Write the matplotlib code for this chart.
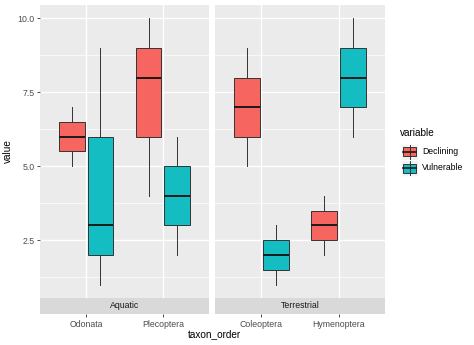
import matplotlib.pyplot as plt
from matplotlib.patches import Rectangle

plt.rcParams['font.family'] = ['Liberation Sans', 'DejaVu Sans']

# data (box stats)
facets = ['Aquatic', 'Terrestrial']
taxa = {'Aquatic': ['Odonata', 'Plecoptera'], 'Terrestrial': ['Coleoptera', 'Hymenoptera']}
variables = ['Declining', 'Vulnerable']
colors = ['#F6655F', '#14BDC1']

# [whislo, q1, med, q3, whishi] per taxon, per variable
declining = {'Odonata': [5, 5.5, 6, 6.5, 7], 'Plecoptera': [4, 6, 8, 9, 10],
             'Coleoptera': [5, 6, 7, 8, 9], 'Hymenoptera': [2, 2.5, 3, 3.5, 4]}
vulnerable = {'Odonata': [1, 2, 3, 6, 9], 'Plecoptera': [2, 3, 4, 5, 6],
              'Coleoptera': [1, 1.5, 2, 2.5, 3], 'Hymenoptera': [6, 7, 8, 9, 10]}
series = [declining, vulnerable]

yticks = [2.5, 5.0, 7.5, 10.0]
yminor = [1.25, 3.75, 6.25, 8.75]

W, H = 474, 345
fig = plt.figure(figsize=(W / 100, H / 100), dpi=100)

def px(l, t, r, b):
    return [l / W, (H - b) / H, (r - l) / W, (b - t) / H]

panels = [(40, 209), (215, 385)]
edge = '#333333'

for i, fac in enumerate(facets):
    l, r = panels[i]
    ax = fig.add_axes(px(l, 5, r, 298))
    ax.set_facecolor('#EBEBEB')
    for s in ax.spines.values():
        s.set_visible(False)
    ax.set_xlim(0.4, 2.6)
    ax.set_ylim(0.55, 10.45)
    for y in yminor:
        ax.axhline(y, color='white', lw=0.5, zorder=0)
    for y in yticks:
        ax.axhline(y, color='white', lw=1.0, zorder=0)
    for x in [1, 2]:
        ax.axvline(x, color='white', lw=1.0, zorder=0)
    ax.set_xticks([])
    if i == 0:
        ax.set_yticks(yticks)
        ax.set_yticklabels(['%.1f' % v for v in yticks], fontsize=6.3, color='#4D4D4D')
        ax.tick_params(axis='y', length=2.5, width=0.6, color='#333333', pad=1.5)
        ax.set_ylabel('value', fontsize=7.2, labelpad=3)
    else:
        ax.set_yticks([])

    for j, var in enumerate(variables):
        stats = []
        for t in taxa[fac]:
            w0, q1, med, q3, w1 = series[j][t]
            stats.append({'whislo': w0, 'q1': q1, 'med': med, 'q3': q3, 'whishi': w1})
        pos = [1 + (j - 0.5) * 0.375, 2 + (j - 0.5) * 0.375]
        ax.bxp(stats, positions=pos, widths=0.3375, showfliers=False,
               patch_artist=True, manage_ticks=False,
               boxprops=dict(facecolor=colors[j], edgecolor=edge, lw=0.7),
               medianprops=dict(color='#1a1a1a', lw=1.4),
               whiskerprops=dict(color=edge, lw=0.7),
               capprops=dict(lw=0))

    sx = fig.add_axes(px(l, 298, r, 314))
    sx.set_facecolor('#D9D9D9')
    for s in sx.spines.values():
        s.set_visible(False)
    sx.set_xlim(0.4, 2.6)
    sx.set_ylim(0, 1)
    sx.set_yticks([])
    sx.text(1.5, 0.5, fac, ha='center', va='center', fontsize=6.3, color='#1A1A1A')
    sx.set_xticks([1, 2])
    sx.set_xticklabels(taxa[fac], fontsize=6.3, color='#4D4D4D')
    sx.tick_params(axis='x', length=2.5, width=0.6, color='#333333', pad=1.5)

fig.text(214 / W, 1 - 334 / H, 'taxon_order', ha='center', va='center', fontsize=7.2)

# legend drawn by hand in pixel coordinates, with boxplot-like keys
lg = fig.add_axes(px(395, 120, 474, 180))
lg.set_xlim(395, 474)
lg.set_ylim(180, 120)
lg.axis('off')
lg.text(400, 133, 'variable', fontsize=7.2, va='center', ha='left')
for k, (c, lab) in enumerate(zip(colors, variables)):
    yc = 151.5 + k * 16.5
    lg.add_patch(Rectangle((401, yc - 8), 17, 16, facecolor='#F2F2F2', edgecolor='white', lw=0.5))
    lg.plot([409.5, 409.5], [yc - 7, yc + 7], color=edge, lw=0.7)
    lg.add_patch(Rectangle((403, yc - 4.5), 13, 9, facecolor=c, edgecolor=edge, lw=0.7))
    lg.plot([403, 416], [yc, yc], color='#1a1a1a', lw=1.2)
    lg.text(422, yc, lab, fontsize=6.2, va='center', ha='left')

fig.savefig('out.png', dpi=100)
